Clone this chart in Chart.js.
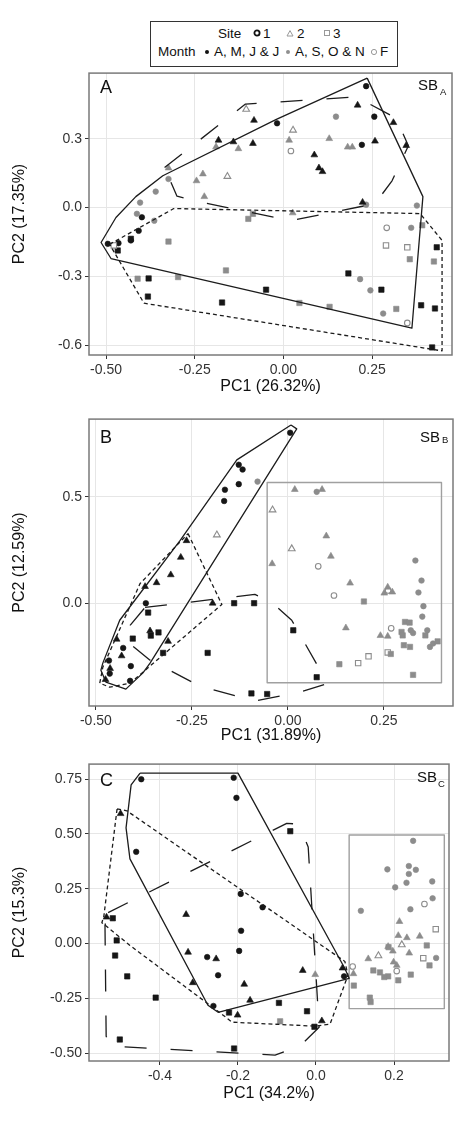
<!DOCTYPE html>
<html>
<head>
<meta charset="utf-8">
<script src="https://cdn.jsdelivr.net/npm/chart.js@4.4.1/dist/chart.umd.min.js"></script>
<style>
  html, body { margin: 0; padding: 0; background: #fff; }
  body { width: 474px; height: 1126px; position: relative; overflow: hidden;
         font-family: "Liberation Sans", Arial, Helvetica, sans-serif; color: #111; }
  canvas { position: absolute; left: 0; }
  .t { position: absolute; white-space: nowrap; line-height: 1; }
  .lg { font-size: 13.5px; }
  .pl { font-size: 18px; }
  .sb { font-size: 15px; }
  .sub { font-size: 9.5px; }
  svg { position: absolute; overflow: visible; }
  #legendBox { position: absolute; left: 150px; top: 21px; width: 246px; height: 44px;
               border: 1px solid #333; }
</style>
</head>
<body>

<!-- legend -->
<div id="legendBox"></div>
<span class="t lg" style="left:218px;top:27px">Site</span>
<svg style="left:252px;top:28px" width="10" height="10"><circle cx="5" cy="5" r="2.6" fill="none" stroke="#111" stroke-width="1.8"/></svg>
<span class="t lg" style="left:263px;top:27px">1</span>
<svg style="left:285px;top:28px" width="10" height="10"><polygon points="2,8 8,8 5,2.6" fill="none" stroke="#999" stroke-width="1"/></svg>
<span class="t lg" style="left:297px;top:27px">2</span>
<svg style="left:322px;top:28px" width="10" height="10"><rect x="2.5" y="2.5" width="5" height="5" fill="none" stroke="#999" stroke-width="1"/></svg>
<span class="t lg" style="left:333px;top:27px">3</span>

<span class="t lg" style="left:158px;top:45px">Month</span>
<svg style="left:202px;top:47px" width="10" height="10"><circle cx="5" cy="5" r="2" fill="#111"/></svg>
<span class="t lg" style="left:214px;top:45px">A, M, J &amp; J</span>
<svg style="left:283px;top:47px" width="10" height="10"><circle cx="5" cy="5" r="2" fill="#8f8f8f"/></svg>
<span class="t lg" style="left:295px;top:45px">A, S, O &amp; N</span>
<svg style="left:369px;top:47px" width="10" height="10"><circle cx="5" cy="5" r="2.6" fill="none" stroke="#999" stroke-width="1"/></svg>
<span class="t lg" style="left:380px;top:45px">F</span>

<canvas id="pa" width="474" height="330" style="top:68px"></canvas>
<canvas id="pb" width="474" height="333" style="top:414px"></canvas>
<canvas id="pc" width="474" height="346" style="top:759px"></canvas>

<!-- panel tags -->
<span class="t pl" style="left:100px;top:78px">A</span>
<span class="t sb" style="left:418px;top:77px">SB</span><span class="t sub" style="left:440px;top:87px">A</span>
<span class="t pl" style="left:100px;top:428px">B</span>
<span class="t sb" style="left:420px;top:429px">SB</span><span class="t sub" style="left:442px;top:435px">B</span>
<span class="t pl" style="left:100px;top:771px">C</span>
<span class="t sb" style="left:417px;top:769px">SB</span><span class="t sub" style="left:438px;top:779px">C</span>

<script>
// ─── Panel A (SB_A) ──────────────────────────────────────────
const A_c_dark = [[0.233,0.530],[0.256,0.397],[-0.018,0.368],[0.221,0.274],[-0.399,-0.042],[-0.408,-0.101],[-0.430,-0.143],[-0.495,-0.158],[-0.465,-0.155]];
const A_c_grey = [[0.148,0.397],[-0.324,0.125],[-0.360,0.070],[-0.404,0.022],[-0.413,-0.027],[-0.364,-0.057],[0.233,0.013],[0.376,0.009],[0.360,-0.088],[0.216,-0.312],[0.245,-0.361],[0.281,-0.462]];
const A_c_open = [[0.021,0.247],[0.291,-0.088],[0.349,-0.503]];
const A_t_dark = [[-0.083,0.381],[-0.183,0.294],[-0.141,0.287],[-0.086,0.280],[0.209,0.447],[0.310,0.371],[0.258,0.290],[0.346,0.271],[0.087,0.230],[0.100,0.173],[0.110,0.157],[0.223,0.023]];
const A_t_grey = [[-0.190,0.265],[-0.127,0.257],[-0.324,0.173],[-0.227,0.147],[-0.245,0.117],[-0.223,0.048],[0.016,0.294],[0.129,0.301],[0.181,0.264],[0.194,0.264],[0.026,-0.023]];
const A_t_open = [[-0.105,0.429],[-0.158,0.136],[0.027,0.338]];
const A_s_dark = [[-0.430,-0.136],[-0.467,-0.187],[-0.380,-0.309],[-0.382,-0.388],[-0.173,-0.414],[-0.049,-0.358],[0.432,-0.173],[0.183,-0.287],[0.276,-0.358],[0.388,-0.426],[0.427,-0.440],[0.419,-0.610]];
const A_s_grey = [[-0.099,-0.049],[-0.086,-0.027],[-0.324,-0.148],[-0.162,-0.274],[-0.411,-0.310],[-0.297,-0.303],[0.391,-0.077],[0.356,-0.225],[0.424,-0.235],[0.045,-0.416],[0.130,-0.433],[0.318,-0.442]];
const A_s_open = [[-0.478,-0.165],[0.289,-0.165],[0.349,-0.173]];
const A_hull1 = [[0.236,0.565],[0.393,0.048],[0.362,-0.526],[-0.486,-0.222],[-0.514,-0.152],[-0.472,-0.043],[-0.416,0.048],[-0.340,0.139],[-0.020,0.385],[0.236,0.565]];
const A_hull2 = [[-0.335,0.175],[-0.107,0.452],[0.205,0.483],[0.318,0.390],[0.352,0.270],[0.306,0.117],[0.258,0.017],[0.020,-0.057],[-0.220,0.020],[-0.300,0.050],[-0.335,0.175]];
const A_hull3 = [[-0.490,-0.160],[-0.309,-0.004],[0.385,-0.026],[0.447,-0.143],[0.447,-0.625],[-0.393,-0.417],[-0.490,-0.160]];
const A_xTicks = [-0.5, -0.25, 0, 0.25];
const A_xLabels = ['-0.50', '-0.25', '0.00', '0.25'];
const A_yTicks = [-0.6, -0.3, 0, 0.3];
const A_yLabels = ['-0.6', '-0.3', '0.0', '0.3'];

// ─── Panel B (SB_B) ──────────────────────────────────────────
const B_c_dark = [[-0.128,0.650],[-0.118,0.628],[-0.128,0.559],[-0.164,0.533],[-0.166,0.480],[0.006,0.800],[-0.370,0.001],[-0.429,-0.209],[-0.466,-0.268],[-0.409,-0.294],[-0.464,-0.329],[-0.411,-0.363]];
const B_c_grey = [[-0.079,0.571],[0.075,0.523],[0.332,0.201],[0.348,0.107],[0.340,0.051],[0.353,-0.013],[0.350,-0.062],[0.320,-0.126],[0.326,-0.139],[0.363,-0.126],[0.370,-0.204],[0.378,-0.188]];
const B_c_open = [[0.079,0.174],[0.120,0.037],[0.261,0.061],[0.269,-0.117]];
const B_t_dark = [[-0.264,0.294],[-0.279,0.216],[-0.305,0.134],[-0.342,0.097],[-0.372,0.079],[-0.196,0.001],[-0.359,-0.129],[-0.446,-0.168],[-0.312,-0.178],[-0.433,-0.246],[-0.463,-0.305],[-0.475,-0.357]];
const B_t_grey = [[0.018,0.534],[0.089,0.534],[0.100,0.316],[0.112,0.221],[-0.041,0.186],[0.162,0.095],[0.260,0.076],[0.251,0.048],[0.272,0.053],[0.151,-0.115],[0.241,-0.151],[0.260,-0.154]];
const B_t_open = [[-0.185,0.321],[-0.040,0.438],[0.010,0.256]];
const B_s_dark = [[-0.364,-0.043],[-0.140,0.001],[-0.088,0.001],[-0.357,-0.151],[-0.337,-0.136],[-0.404,-0.165],[-0.325,-0.232],[-0.209,-0.232],[0.014,-0.126],[-0.095,-0.422],[-0.054,-0.425],[0.075,-0.346]];
const B_s_grey = [[0.198,0.009],[0.305,-0.087],[0.317,-0.090],[0.296,-0.134],[0.299,-0.150],[0.358,-0.150],[0.302,-0.196],[0.318,-0.204],[0.390,-0.178],[0.268,-0.237],[0.134,-0.285],[0.326,-0.335]];
const B_s_open = [[0.260,-0.230],[0.210,-0.248],[0.183,-0.280]];
const B_hull1 = [[0.008,0.836],[0.023,0.818],[-0.359,-0.280],[-0.378,-0.327],[-0.422,-0.402],[-0.474,-0.369],[-0.487,-0.313],[-0.482,-0.280],[-0.438,-0.079],[-0.281,0.294],[-0.133,0.673],[0.008,0.836]];
const B_hull2 = [[-0.260,0.327],[-0.172,-0.005],[-0.411,-0.374],[-0.464,-0.393],[-0.490,-0.374],[-0.482,-0.299],[-0.385,0.093],[-0.260,0.327]];
const B_hull3 = [[-0.372,-0.019],[-0.086,0.042],[-0.042,0.005],[0.010,-0.079],[0.078,-0.294],[0.098,-0.379],[0.031,-0.416],[-0.086,-0.458],[-0.229,-0.388],[-0.359,-0.266],[-0.417,-0.182],[-0.411,-0.103],[-0.372,-0.019]];
const B_boxX = [-0.054, 0.400];
const B_boxY = [-0.372, 0.567];
const B_xTicks = [-0.5, -0.25, 0, 0.25];
const B_xLabels = ['-0.50', '-0.25', '0.00', '0.25'];
const B_yTicks = [0, 0.5];
const B_yLabels = ['0.0', '0.5'];

// ─── Panel C (SB_C) ──────────────────────────────────────────
const C_c_dark = [[-0.448,0.749],[-0.211,0.756],[-0.204,0.664],[-0.461,0.418],[-0.193,0.226],[-0.137,0.165],[-0.192,0.058],[-0.279,-0.062],[-0.197,-0.034],[-0.251,-0.145],[-0.263,-0.285],[0.072,-0.150]];
const C_c_grey = [[0.249,0.468],[0.183,0.338],[0.238,0.353],[0.256,0.336],[0.238,0.317],[0.203,0.256],[0.232,0.277],[0.298,0.283],[0.299,0.206],[0.115,0.149],[0.242,0.156],[0.308,-0.066]];
const C_c_open = [[0.278,0.180],[0.094,-0.105],[0.207,-0.126]];
const C_t_dark = [[-0.501,0.592],[-0.537,0.120],[-0.333,0.132],[-0.328,-0.040],[-0.256,-0.070],[-0.316,-0.179],[-0.184,-0.186],[-0.169,-0.259],[-0.201,-0.327],[-0.034,-0.123],[0.015,-0.353],[0.068,-0.112]];
const C_t_grey = [[-0.002,-0.142],[0.096,-0.138],[0.214,0.100],[0.211,0.036],[0.233,0.026],[0.266,0.033],[0.197,-0.035],[0.239,-0.044],[0.134,-0.070],[0.199,-0.085],[0.207,-0.100],[0.185,-0.014]];
const C_t_open = [[0.220,-0.006],[0.160,-0.056]];
const C_s_dark = [[-0.521,0.115],[-0.511,0.014],[-0.515,-0.055],[-0.484,-0.150],[-0.411,-0.247],[-0.503,-0.438],[-0.210,-0.479],[-0.223,-0.315],[-0.095,-0.271],[-0.023,-0.309],[-0.004,-0.380],[-0.066,0.512]];
const C_s_grey = [[-0.092,-0.355],[0.097,-0.192],[0.186,-0.017],[0.147,-0.123],[0.164,-0.132],[0.185,-0.150],[0.175,-0.153],[0.211,-0.168],[0.284,-0.009],[0.291,-0.100],[0.243,-0.142],[0.138,-0.247],[0.140,-0.267]];
const C_s_open = [[0.307,0.065],[0.275,-0.067]];
const C_hull1 = [[-0.451,0.777],[-0.200,0.777],[0.074,-0.114],[0.085,-0.159],[-0.251,-0.314],[-0.277,-0.282],[-0.477,0.386],[-0.487,0.527],[-0.474,0.723],[-0.451,0.777]];
const C_hull2 = [[-0.510,0.614],[-0.485,0.605],[0.074,-0.082],[0.082,-0.145],[0.036,-0.368],[-0.003,-0.377],[-0.215,-0.359],[-0.238,-0.327],[-0.477,-0.009],[-0.549,0.095],[-0.544,0.123],[-0.510,0.614]];
const C_hull3 = [[-0.533,0.141],[-0.075,0.548],[-0.050,0.545],[-0.035,0.505],[-0.020,0.440],[0.008,-0.382],[-0.041,-0.468],[-0.105,-0.509],[-0.528,-0.468],[-0.538,-0.423],[-0.541,0.082],[-0.533,0.141]];
const C_boxX = [0.085, 0.329];
const C_boxY = [-0.297, 0.495];
const C_xTicks = [-0.4, -0.2, 0, 0.2];
const C_xLabels = ['-0.4', '-0.2', '0.0', '0.2'];
const C_yTicks = [-0.5, -0.25, 0, 0.25, 0.5, 0.75];
const C_yLabels = ['-0.50', '-0.25', '0.00', '0.25', '0.50', '0.75'];

// ─── Styles ──────────────────────────────────────────────────
const FONT = '"Liberation Sans", Arial, Helvetica, sans-serif';
const DARK = '#161616';
const GREY = '#8c8c8c';
const SHAPES = { c: ['circle', 2.8], t: ['triangle', 3.9], s: ['rect', 3.8] };
const LONG_DASH = [22, 24];
const SHORT_DASH = [4, 3];

Chart.defaults.font.family = FONT;

const pts = (arr) => arr.map((p) => ({ x: p[0], y: p[1] }));

function pointSet(arr, shape, month) {
  const [style, r] = SHAPES[shape];
  const open = month === 'open';
  const col = month === 'dark' ? DARK : GREY;
  return {
    data: pts(arr),
    pointStyle: style,
    pointRadius: r,
    backgroundColor: open ? '#ffffff' : col,
    borderColor: col,
    borderWidth: open ? 1.1 : 0.6,
    showLine: false,
    order: 2,
  };
}

function lineSet(arr, dash, color, width) {
  return {
    data: pts(arr),
    showLine: true,
    fill: false,
    borderColor: color,
    borderWidth: width,
    borderDash: dash,
    borderJoinStyle: 'round',
    pointRadius: 0,
    tension: 0,
    order: 1,
  };
}

function boxPoly(bx, by) {
  return [[bx[0], by[0]], [bx[1], by[0]], [bx[1], by[1]], [bx[0], by[1]], [bx[0], by[0]]];
}

function groupSets(g) {
  return [
    pointSet(g.s_grey, 's', 'grey'), pointSet(g.s_open, 's', 'open'), pointSet(g.s_dark, 's', 'dark'),
    pointSet(g.t_grey, 't', 'grey'), pointSet(g.t_open, 't', 'open'), pointSet(g.t_dark, 't', 'dark'),
    pointSet(g.c_grey, 'c', 'grey'), pointSet(g.c_open, 'c', 'open'), pointSet(g.c_dark, 'c', 'dark'),
  ];
}

const framePlugin = {
  id: 'frame',
  afterDatasetsDraw(chart) {
    const { ctx, chartArea: a } = chart;
    ctx.save();
    ctx.strokeStyle = '#7a7a7a';
    ctx.lineWidth = 1.5;
    ctx.strokeRect(a.left, a.top, a.right - a.left, a.bottom - a.top);
    ctx.restore();
  },
};

function axis(o, min, max, ticks, labels, title, isX) {
  return {
    type: 'linear',
    min, max,
    afterBuildTicks: (s) => { s.ticks = ticks.map((v) => ({ value: v })); },
    afterFit: (s) => {
      if (isX) s.height = o.xAxisH; else s.width = 89;
      // no extra inset for labels: the frame is placed by the layout padding
      s.paddingTop = 0; s.paddingBottom = 0; s.paddingLeft = 0; s.paddingRight = 0;
    },
    ticks: {
      callback: (v, i) => labels[i],
      color: '#333', font: { size: 14 }, padding: 3,
      autoSkip: false, maxRotation: 0,
    },
    grid: { color: '#e6e6e6', lineWidth: 1, tickColor: '#333', tickLength: 4 },
    border: { display: false },
    title: {
      display: true, text: title, color: '#111',
      font: { size: 16 },
      padding: isX ? { top: 0, bottom: 2 } : { top: 10, bottom: 0 },
    },
  };
}

function panel(id, o) {
  new Chart(document.getElementById(id), {
    type: 'scatter',
    data: { datasets: o.sets },
    options: {
      responsive: false,
      animation: false,
      events: [],
      layout: { padding: { left: 0, right: o.padRight, top: 4, bottom: 0 } },
      plugins: { legend: { display: false }, tooltip: { enabled: false } },
      scales: {
        x: axis(o, o.xMin, o.xMax, o.xTicks, o.xLabels, o.xTitle, true),
        y: axis(o, o.yMin, o.yMax, o.yTicks, o.yLabels, o.yTitle, false),
      },
    },
    plugins: [framePlugin],
  });
}

// ─── Build panels ────────────────────────────────────────────
panel('pa', {
  sets: [
    lineSet(A_hull1, [], '#1c1c1c', 1.3),
    lineSet(A_hull2, LONG_DASH, '#1c1c1c', 1.3),
    lineSet(A_hull3, SHORT_DASH, '#1c1c1c', 1.3),
    ...groupSets({ c_dark: A_c_dark, c_grey: A_c_grey, c_open: A_c_open, t_dark: A_t_dark, t_grey: A_t_grey,
                   t_open: A_t_open, s_dark: A_s_dark, s_grey: A_s_grey, s_open: A_s_open }),
  ],
  xMin: -0.548, xMax: 0.475, yMin: -0.643, yMax: 0.587,
  xTicks: A_xTicks, xLabels: A_xLabels, yTicks: A_yTicks, yLabels: A_yLabels,
  xTitle: 'PC1 (26.32%)', yTitle: 'PC2 (17.35%)',
  padRight: 22, xAxisH: 43,
});

panel('pb', {
  sets: [
    lineSet(B_hull1, [], '#1c1c1c', 1.3),
    lineSet(B_hull2, SHORT_DASH, '#1c1c1c', 1.3),
    lineSet(B_hull3, LONG_DASH, '#1c1c1c', 1.3),
    lineSet(boxPoly(B_boxX, B_boxY), [], '#a0a0a0', 1.4),
    ...groupSets({ c_dark: B_c_dark, c_grey: B_c_grey, c_open: B_c_open, t_dark: B_t_dark, t_grey: B_t_grey,
                   t_open: B_t_open, s_dark: B_s_dark, s_grey: B_s_grey, s_open: B_s_open }),
  ],
  xMin: -0.518, xMax: 0.430, yMin: -0.481, yMax: 0.864,
  xTicks: B_xTicks, xLabels: B_xLabels, yTicks: B_yTicks, yLabels: B_yLabels,
  xTitle: 'PC1 (31.89%)', yTitle: 'PC2 (12.59%)',
  padRight: 21, xAxisH: 41,
});

panel('pc', {
  sets: [
    lineSet(C_hull1, [], '#1c1c1c', 1.3),
    lineSet(C_hull2, SHORT_DASH, '#1c1c1c', 1.3),
    lineSet(C_hull3, LONG_DASH, '#1c1c1c', 1.3),
    lineSet(boxPoly(C_boxX, C_boxY), [], '#a0a0a0', 1.4),
    ...groupSets({ c_dark: C_c_dark, c_grey: C_c_grey, c_open: C_c_open, t_dark: C_t_dark, t_grey: C_t_grey,
                   t_open: C_t_open, s_dark: C_s_dark, s_grey: C_s_grey, s_open: C_s_open }),
  ],
  xMin: -0.582, xMax: 0.341, yMin: -0.536, yMax: 0.818,
  xTicks: C_xTicks, xLabels: C_xLabels, yTicks: C_yTicks, yLabels: C_yLabels,
  xTitle: 'PC1 (34.2%)', yTitle: 'PC2 (15.3%)',
  padRight: 25, xAxisH: 44,
});
</script>
</body>
</html>
